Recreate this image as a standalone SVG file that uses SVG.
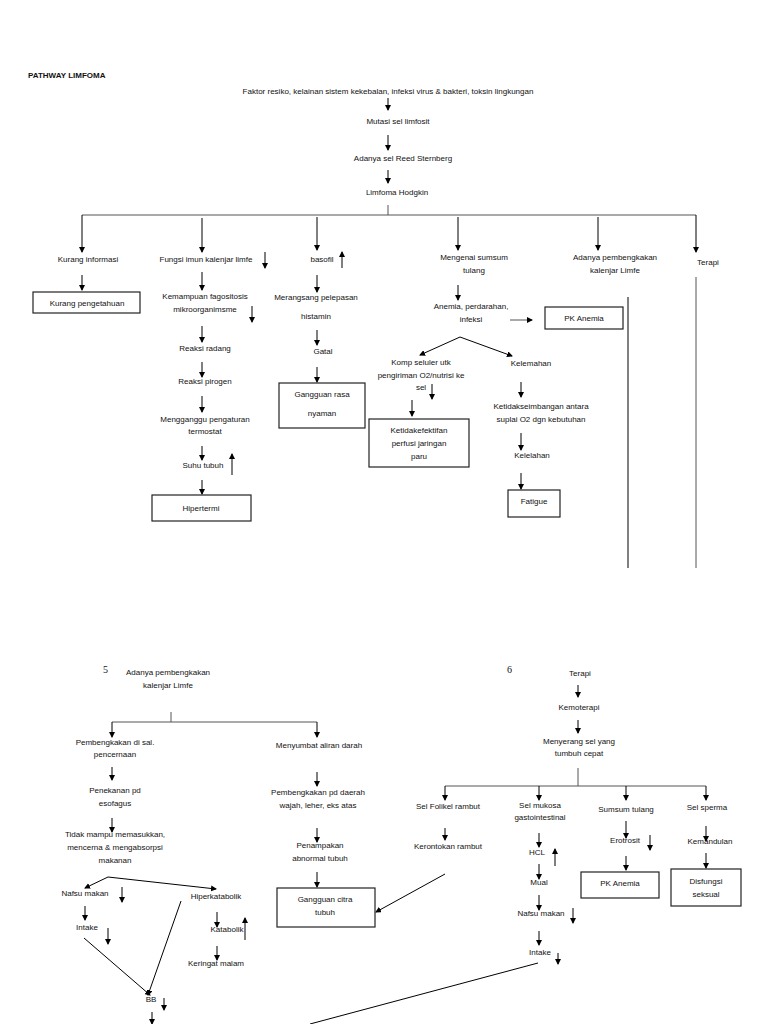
<svg xmlns="http://www.w3.org/2000/svg" width="768" height="1024" viewBox="0 0 768 1024">
<defs>
<marker id="ah" markerWidth="6" markerHeight="6" refX="5" refY="3" orient="auto" markerUnits="userSpaceOnUse"><path d="M0,0 L6,3 L0,6 z" fill="#000"/></marker>
</defs>
<style>
text{font-family:"Liberation Sans",Arial,sans-serif;font-size:8px;fill:#111;text-anchor:middle}
.l{text-anchor:start}
.b{font-weight:bold}
.n{font-family:"Liberation Serif",serif;font-size:10px}
line,polyline{stroke:#000;stroke-width:1;fill:none}
.a{marker-end:url(#ah)}
.g{stroke:#555}
rect{fill:#fff;stroke:#222;stroke-width:1.2}
</style>
<rect x="0" y="0" width="768" height="1024" style="fill:#fff;stroke:none"/>
<g id="connectors">
<line class="a" x1="388" y1="98" x2="388" y2="110"/>
<line class="a" x1="388" y1="135" x2="388" y2="150"/>
<line class="a" x1="388" y1="170" x2="388" y2="183"/>
<line class="g" x1="388" y1="205" x2="388" y2="215"/>
<polyline class="g" points="82,215 696,215"/>
<line class="a" x1="82" y1="215" x2="82" y2="252"/>
<line class="a" x1="202" y1="218" x2="202" y2="252"/>
<line class="a" x1="317" y1="217" x2="317" y2="250"/>
<line class="a" x1="458" y1="217" x2="458" y2="250"/>
<line class="a" x1="598" y1="217" x2="598" y2="250"/>
<line class="a" x1="696" y1="215" x2="696" y2="252"/>
<line class="a" x1="82" y1="275" x2="82" y2="290"/>
<line class="a" x1="202" y1="272" x2="202" y2="290"/>
<line class="a" x1="202" y1="326" x2="202" y2="342"/>
<line class="a" x1="202" y1="362" x2="202" y2="377"/>
<line class="a" x1="202" y1="396" x2="202" y2="412"/>
<line class="a" x1="202" y1="446" x2="202" y2="460"/>
<line class="a" x1="202" y1="480" x2="202" y2="494"/>
<line class="a" x1="317" y1="275" x2="317" y2="292"/>
<line class="a" x1="317" y1="330" x2="317" y2="345"/>
<line class="a" x1="317" y1="367" x2="317" y2="382"/>
<line class="a" x1="458" y1="285" x2="458" y2="300"/>
<line class="a g" x1="510" y1="320" x2="532" y2="320"/>
<line class="a" x1="460" y1="337" x2="420" y2="355"/>
<line class="a" x1="460" y1="337" x2="512" y2="356"/>
<line class="a" x1="412" y1="400" x2="412" y2="416"/>
<line class="a" x1="521" y1="382" x2="521" y2="397"/>
<line class="a" x1="521" y1="433" x2="521" y2="450"/>
<line class="a" x1="521" y1="473" x2="521" y2="489"/>
<line x1="628" y1="297" x2="628" y2="568"/>
<line class="g" x1="696" y1="277" x2="696" y2="568"/>
<line class="g" x1="171" y1="712" x2="171" y2="722"/>
<polyline class="g" points="112,722 317,722"/>
<line class="a" x1="112" y1="722" x2="112" y2="737"/>
<line class="a" x1="317" y1="722" x2="317" y2="737"/>
<line class="a" x1="112" y1="767" x2="112" y2="780"/>
<line class="a" x1="112" y1="818" x2="112" y2="832"/>
<line class="a" x1="108" y1="877" x2="85" y2="888"/>
<line class="a" x1="108" y1="877" x2="216" y2="889"/>
<line class="a" x1="85" y1="906" x2="85" y2="920"/>
<line class="a" x1="84" y1="938" x2="150" y2="995"/>
<line class="a" x1="181" y1="901" x2="148" y2="995"/>
<line class="a" x1="152" y1="1012" x2="152" y2="1024"/>
<line class="a" x1="217" y1="912" x2="217" y2="927"/>
<line class="a" x1="217" y1="946" x2="217" y2="960"/>
<line class="a" x1="317" y1="772" x2="317" y2="786"/>
<line class="a" x1="317" y1="828" x2="317" y2="842"/>
<line class="a" x1="317" y1="872" x2="317" y2="887"/>
<line class="a" x1="445" y1="874" x2="376" y2="912"/>
<line x1="538" y1="963" x2="310" y2="1024"/>
<line class="a" x1="578" y1="685" x2="578" y2="697"/>
<line class="a" x1="578" y1="720" x2="578" y2="733"/>
<line class="g" x1="578" y1="768" x2="578" y2="786"/>
<polyline class="g" points="445,786 706,786"/>
<line class="a" x1="445" y1="786" x2="445" y2="800"/>
<line class="a" x1="539" y1="786" x2="539" y2="800"/>
<line class="a" x1="626" y1="786" x2="626" y2="800"/>
<line class="a" x1="706" y1="786" x2="706" y2="800"/>
<line class="a" x1="445" y1="828" x2="445" y2="840"/>
<line class="a" x1="539" y1="833" x2="539" y2="847"/>
<line class="a" x1="539" y1="864" x2="539" y2="879"/>
<line class="a" x1="539" y1="895" x2="539" y2="910"/>
<line class="a" x1="539" y1="931" x2="539" y2="945"/>
<line class="a" x1="626" y1="821" x2="626" y2="838"/>
<line class="a" x1="626" y1="856" x2="626" y2="870"/>
<line class="a" x1="706" y1="826" x2="706" y2="841"/>
<line class="a" x1="706" y1="853" x2="706" y2="868"/>
<line class="a" x1="265" y1="252" x2="265" y2="268"/>
<line class="a" x1="342" y1="268" x2="342" y2="252"/>
<line class="a" x1="252" y1="306" x2="252" y2="322"/>
<line class="a" x1="232" y1="475" x2="232" y2="454"/>
<line class="a" x1="432" y1="384" x2="432" y2="399"/>
<line class="a" x1="122" y1="887" x2="122" y2="902"/>
<line class="a" x1="108" y1="928" x2="108" y2="944"/>
<line class="a" x1="164" y1="998" x2="164" y2="1010"/>
<line class="a" x1="245" y1="940" x2="245" y2="918"/>
<line class="a" x1="555" y1="866" x2="555" y2="849"/>
<line class="a" x1="573" y1="908" x2="573" y2="923"/>
<line class="a" x1="558" y1="953" x2="558" y2="964"/>
<line class="a" x1="650" y1="835" x2="650" y2="850"/>
</g>
<text class="l b" x="28" y="78">PATHWAY LIMFOMA</text>
<g id="n-faktor"><text x="388" y="94">Faktor resiko, kelainan sistem kekebalan, infeksi virus &amp; bakteri, toksin lingkungan</text></g>
<g id="n-mutasi"><text x="398" y="124">Mutasi sel limfosit</text></g>
<g id="n-reed"><text x="403" y="161">Adanya sel Reed Sternberg</text></g>
<g id="n-hodgkin"><text x="397" y="195">Limfoma Hodgkin</text></g>
<g id="n-kurinfo"><text x="88" y="262">Kurang informasi</text></g>
<g id="n-kurpeng"><rect x="33" y="292" width="107" height="21"/><text x="87" y="306">Kurang pengetahuan</text></g>
<g id="n-fungsi"><text x="206" y="262">Fungsi imun kalenjar limfe</text></g>
<g id="n-kemampuan"><text x="205" y="299">Kemampuan fagositosis</text><text x="205" y="312">mikroorganimsme</text></g>
<g id="n-radang"><text x="205" y="351">Reaksi radang</text></g>
<g id="n-pirogen"><text x="205" y="384">Reaksi pirogen</text></g>
<g id="n-mengganggu"><text x="205" y="422">Mengganggu pengaturan</text><text x="205" y="434">termostat</text></g>
<g id="n-suhu"><text x="203" y="468">Suhu tubuh</text></g>
<g id="n-hipertermi"><rect x="152" y="495" width="99" height="26"/><text x="201" y="511">Hipertermi</text></g>
<g id="n-basofil"><text x="322" y="262">basofil</text></g>
<g id="n-merangsang"><text x="316" y="300">Merangsang pelepasan</text><text x="316" y="319">histamin</text></g>
<g id="n-gatal"><text x="323" y="354">Gatal</text></g>
<g id="n-rasa"><rect x="279" y="383" width="86" height="45"/><text x="322" y="397">Gangguan rasa</text><text x="322" y="416">nyaman</text></g>
<g id="n-sumsum"><text x="474" y="260">Mengenai sumsum</text><text x="474" y="273">tulang</text></g>
<g id="n-anemia"><text x="471" y="309">Anemia, perdarahan,</text><text x="471" y="322">infeksi</text></g>
<g id="n-pkanemia1"><rect x="545" y="307" width="78" height="22"/><text x="584" y="321">PK Anemia</text></g>
<g id="n-komp"><text x="421" y="365">Komp seluler utk</text><text x="421" y="378">pengiriman O2/nutrisi ke</text><text x="421" y="390">sel</text></g>
<g id="n-perfusi"><rect x="369" y="419" width="100" height="48"/><text x="419" y="433">Ketidakefektifan</text><text x="419" y="446">perfusi jaringan</text><text x="419" y="459">paru</text></g>
<g id="n-kelemahan"><text x="531" y="366">Kelemahan</text></g>
<g id="n-ketidak"><text x="541" y="409">Ketidakseimbangan antara</text><text x="541" y="422">suplai O2 dgn kebutuhan</text></g>
<g id="n-kelelahan"><text x="532" y="458">Kelelahan</text></g>
<g id="n-fatigue"><rect x="508" y="490" width="52" height="27"/><text x="534" y="504">Fatigue</text></g>
<g id="n-pembengkakan"><text x="615" y="260">Adanya pembengkakan</text><text x="615" y="273">kalenjar Limfe</text></g>
<g id="n-terapi"><text x="708" y="265">Terapi</text></g>

<text class="l n" x="103" y="673">5</text>
<g id="n-adanya5"><text x="168" y="675">Adanya pembengkakan</text><text x="168" y="688">kalenjar Limfe</text></g>
<g id="n-salcerna"><text x="115" y="745">Pembengkakan di sal.</text><text x="115" y="757">pencernaan</text></g>
<g id="n-esofagus"><text x="115" y="793">Penekanan pd</text><text x="115" y="806">esofagus</text></g>
<g id="n-tidakmampu"><text x="115" y="837">Tidak mampu memasukkan,</text><text x="115" y="850">mencerna &amp; mengabsorpsi</text><text x="115" y="863">makanan</text></g>
<g id="n-nafsu1"><text x="85" y="896">Nafsu makan</text></g>
<g id="n-intake1"><text x="87" y="930">Intake</text></g>
<g id="n-bb"><text x="151" y="1002">BB</text></g>
<g id="n-hiperkat"><text x="216" y="899">Hiperkatabolik</text></g>
<g id="n-katabolik"><text x="227" y="932">Katabolik</text></g>
<g id="n-keringat"><text x="216" y="966">Keringat malam</text></g>
<g id="n-menyumbat"><text x="319" y="748">Menyumbat aliran darah</text></g>
<g id="n-wajah"><text x="318" y="795">Pembengkakan pd daerah</text><text x="318" y="808">wajah, leher, eks atas</text></g>
<g id="n-penampakan"><text x="320" y="848">Penampakan</text><text x="320" y="861">abnormal tubuh</text></g>
<g id="n-citra"><rect x="277" y="888" width="98" height="39"/><text x="325" y="902">Gangguan citra</text><text x="325" y="915">tubuh</text></g>

<text class="l n" x="507" y="673">6</text>
<g id="n-terapi2"><text x="580" y="676">Terapi</text></g>
<g id="n-kemo"><text x="579" y="710">Kemoterapi</text></g>
<g id="n-menyerang"><text x="579" y="744">Menyerang sel yang</text><text x="579" y="756">tumbuh cepat</text></g>
<g id="n-folikel"><text x="448" y="809">Sel Folikel rambut</text></g>
<g id="n-kerontokan"><text x="448" y="849">Kerontokan rambut</text></g>
<g id="n-mukosa"><text x="540" y="808">Sel mukosa</text><text x="540" y="820">gastointestinal</text></g>
<g id="n-hcl"><text x="537" y="855">HCL</text></g>
<g id="n-mual"><text x="539" y="885">Mual</text></g>
<g id="n-nafsu2"><text x="541" y="916">Nafsu makan</text></g>
<g id="n-intake2"><text x="540" y="955">Intake</text></g>
<g id="n-sumsum2"><text x="626" y="812">Sumsum tulang</text></g>
<g id="n-erotrosit"><text x="625" y="843">Erotrosit</text></g>
<g id="n-pkanemia2"><rect x="581" y="872" width="78" height="26"/><text x="620" y="886">PK Anemia</text></g>
<g id="n-sperma"><text x="707" y="810">Sel sperma</text></g>
<g id="n-kemandulan"><text x="710" y="844">Kemandulan</text></g>
<g id="n-disfungsi"><rect x="671" y="869" width="70" height="37"/><text x="706" y="884">Disfungsi</text><text x="706" y="897">seksual</text></g>
</svg>
